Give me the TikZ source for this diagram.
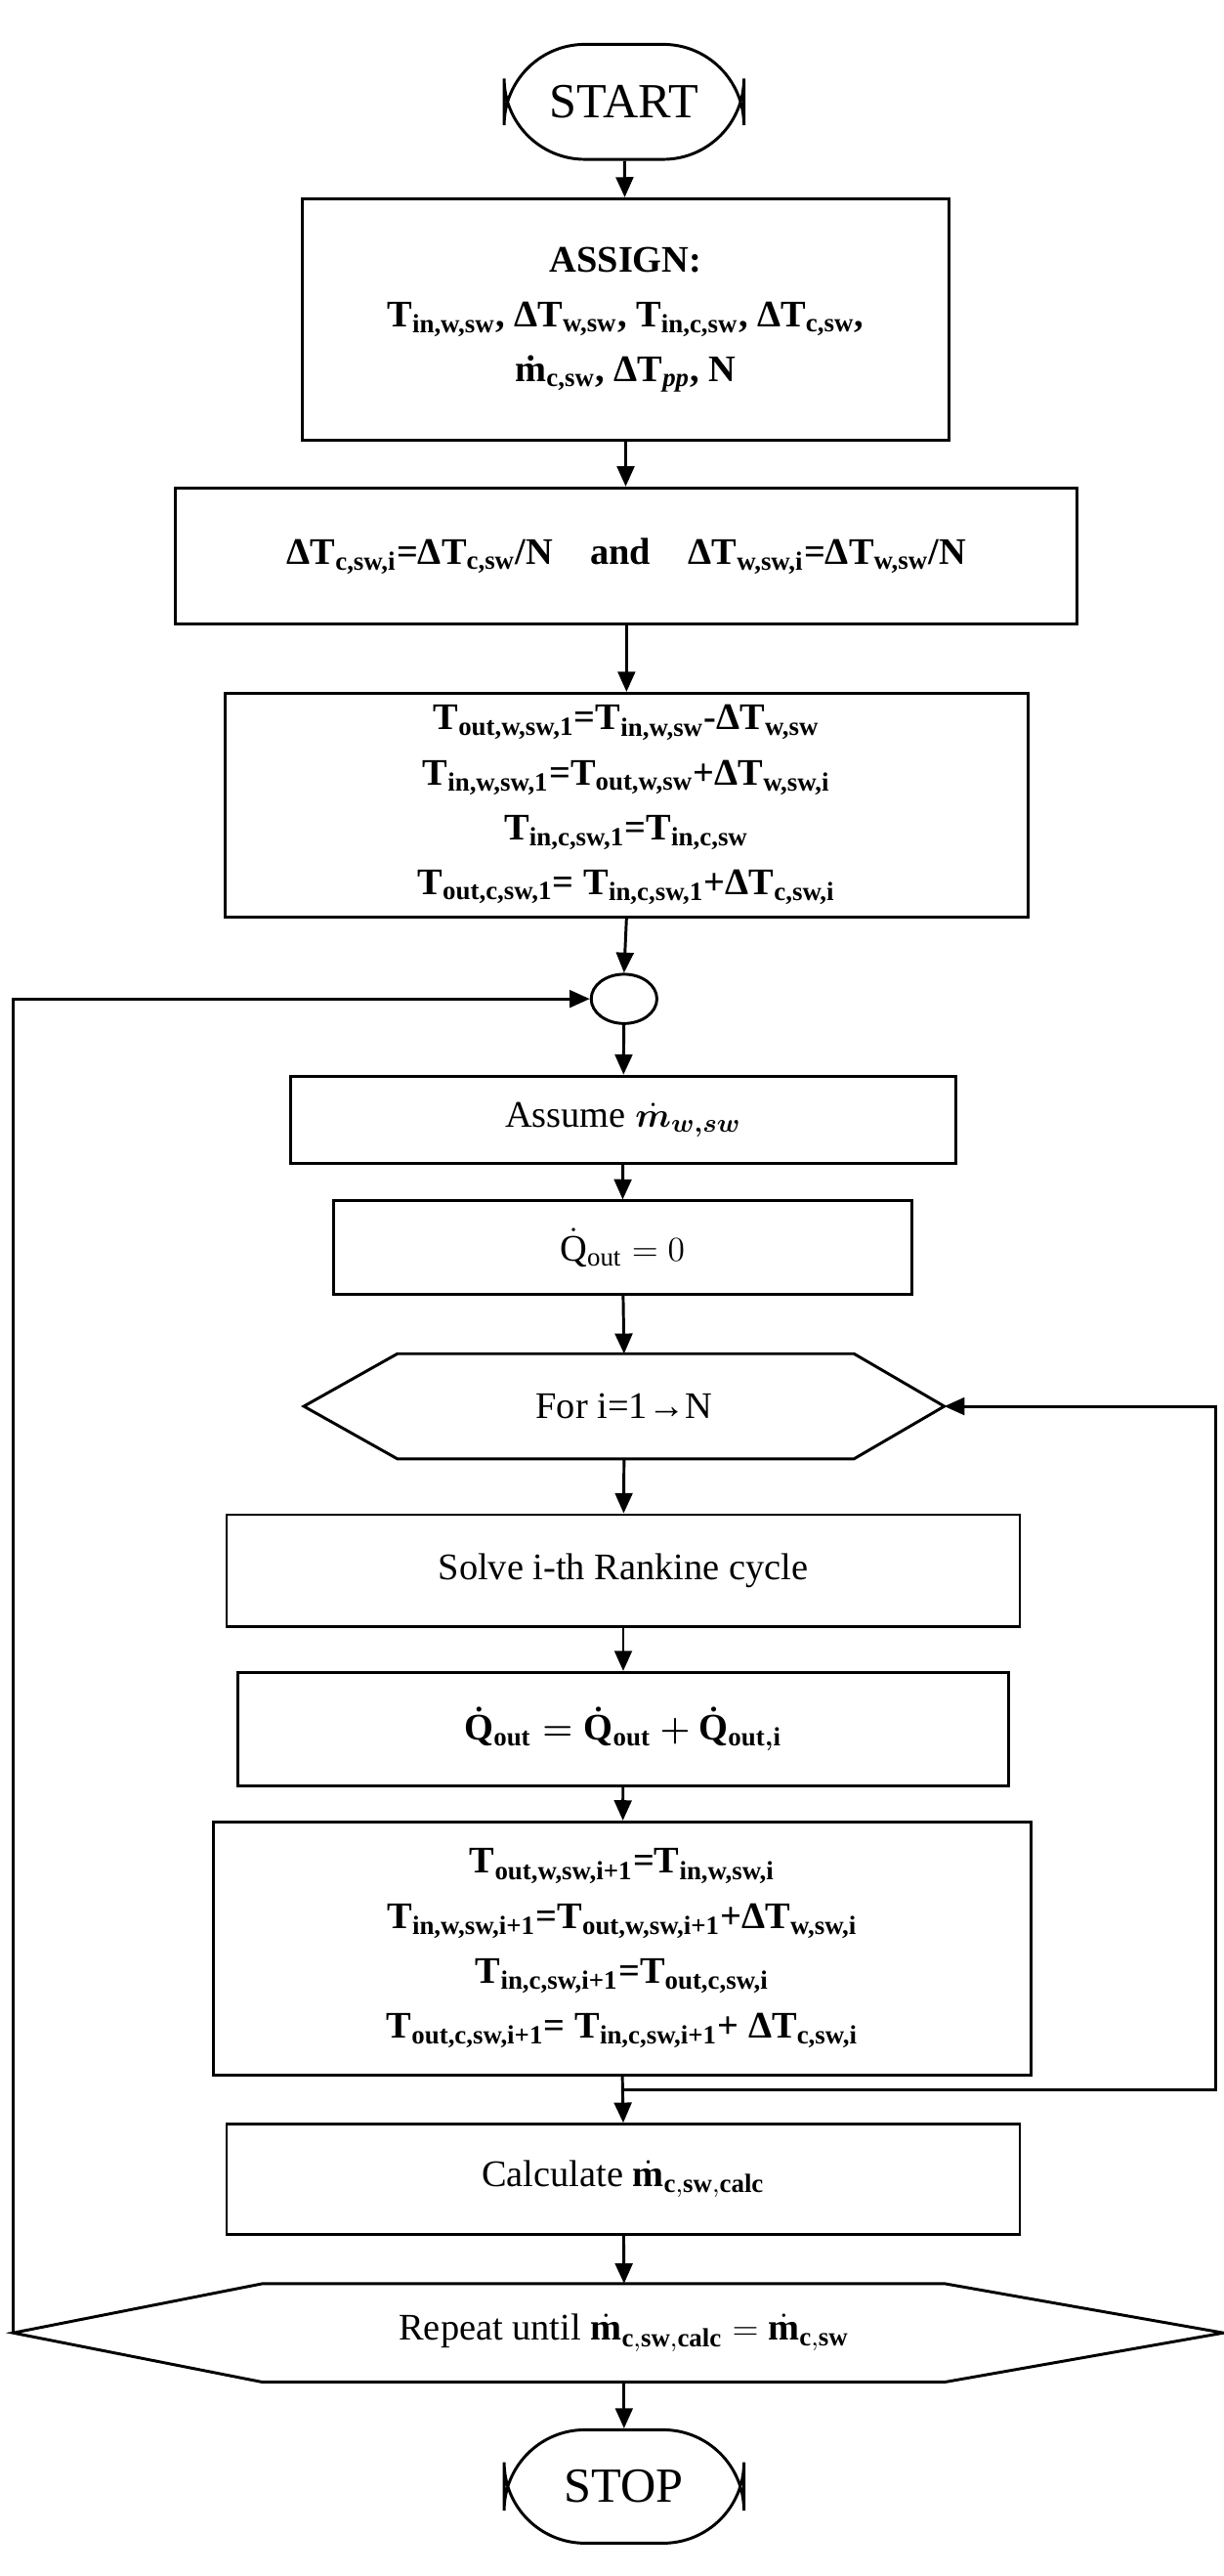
\documentclass[tikz,border=0pt]{standalone}
\usepackage{amsmath}
\usepackage{fontspec}
\setmainfont{Liberation Serif}
\usetikzlibrary{arrows.meta,shapes.geometric}
\newcommand\sbs[1]{\textsubscript{#1}}
\begin{document}
\begin{tikzpicture}[x=0.02cm,y=-0.02cm,
  bx/.style={draw,line width=1pt,align=center,font=\fontsize{13}{19}\selectfont},
  ar/.style={-{Triangle[length=7pt,width=6pt]},line width=1pt}]
\useasboundingbox (0,0) rectangle (745,1568);
\node[bx,rounded corners=28pt,minimum width=146*0.02cm,minimum height=70*0.02cm,font=\fontsize{17}{20}\selectfont] (start) at (380,62) {START};
\node[bx,minimum width=394*0.02cm,minimum height=147*0.02cm,font=\bfseries\fontsize{13}{19}\selectfont] (assign) at (381,194.5) {ASSIGN:\\T\sbs{in,w,sw}, ΔT\sbs{w,sw}, T\sbs{in,c,sw}, ΔT\sbs{c,sw},\\\.{m}\sbs{c,sw}, ΔT\sbs{\textit{pp}}, N};
\node[bx,minimum width=549*0.02cm,minimum height=83*0.02cm,font=\bfseries\fontsize{13}{19}\selectfont] (b2) at (381.5,338.5) {ΔT\sbs{c,sw,i}=ΔT\sbs{c,sw}/N\quad and\quad ΔT\sbs{w,sw,i}=ΔT\sbs{w,sw}/N};
\node[bx,minimum width=489*0.02cm,minimum height=136*0.02cm,font=\bfseries\fontsize{13}{19}\selectfont] (b3) at (381.5,490) {T\sbs{out,w,sw,1}=T\sbs{in,w,sw}-ΔT\sbs{w,sw}\\T\sbs{in,w,sw,1}=T\sbs{out,w,sw}+ΔT\sbs{w,sw,i}\\T\sbs{in,c,sw,1}=T\sbs{in,c,sw}\\T\sbs{out,c,sw,1}= T\sbs{in,c,sw,1}+ΔT\sbs{c,sw,i}};
\node[draw,line width=1pt,ellipse,minimum width=40*0.02cm,minimum height=30*0.02cm,inner sep=0pt] (c) at (380,608) {};
\node[bx,minimum width=405*0.02cm,minimum height=53*0.02cm] (assume) at (379.5,681.5) {Assume $\dot{\boldsymbol{m}}_{\boldsymbol{w,sw}}$};
\node[bx,minimum width=352*0.02cm,minimum height=57*0.02cm] (q0) at (379,759.5) {$\dot{\mathrm{Q}}_{\mathrm{out}}=0$};
\coordinate (fl) at (185,856); \coordinate (fr) at (575,856);
\draw[line width=1pt] (fl) -- (242,824) -- (520,824) -- (fr) -- (520,888) -- (242,888) -- cycle;
\node[font=\fontsize{13}{19}\selectfont] (for) at (380,856) {For i=1→N};
\coordinate (ft) at (380,824); \coordinate (fb) at (380,888);
\node[bx,minimum width=483*0.02cm,minimum height=68*0.02cm] (solve) at (379.5,956) {Solve i-th Rankine cycle};
\node[bx,minimum width=469*0.02cm,minimum height=69*0.02cm] (qo) at (379.5,1052.5) {$\boldsymbol{\dot{\mathrm{Q}}_{\mathrm{out}}=\dot{\mathrm{Q}}_{\mathrm{out}}+\dot{\mathrm{Q}}_{\mathrm{out,i}}}$};
\node[bx,minimum width=498*0.02cm,minimum height=154*0.02cm,font=\bfseries\fontsize{13}{19}\selectfont] (big) at (379,1186) {T\sbs{out,w,sw,i+1}=T\sbs{in,w,sw,i}\\T\sbs{in,w,sw,i+1}=T\sbs{out,w,sw,i+1}+ΔT\sbs{w,sw,i}\\T\sbs{in,c,sw,i+1}=T\sbs{out,c,sw,i}\\T\sbs{out,c,sw,i+1}= T\sbs{in,c,sw,i+1}+ ΔT\sbs{c,sw,i}};
\node[bx,minimum width=483*0.02cm,minimum height=67*0.02cm] (calc) at (379.5,1326.5) {Calculate $\dot{\mathbf{m}}_{\mathbf{c,sw,calc}}$};
\coordinate (rl) at (8,1420); \coordinate (rr) at (745,1420);
\draw[line width=1pt] (rl) -- (160,1390) -- (575,1390) -- (rr) -- (575,1450) -- (160,1450) -- cycle;
\node[font=\fontsize{13}{19}\selectfont] (rep) at (380,1420) {Repeat until $\dot{\mathbf{m}}_{\mathbf{c,sw,calc}}=\dot{\mathbf{m}}_{\mathbf{c,sw}}$};
\coordinate (rt) at (380,1390); \coordinate (rb) at (380,1450);
\node[bx,rounded corners=28pt,minimum width=146*0.02cm,minimum height=69*0.02cm,font=\fontsize{17}{20}\selectfont] (stop) at (380,1513.5) {STOP};
\draw[ar] (start) -- (assign);
\draw[ar] (assign.south) -- (assign.south|-b2.north);
\draw[ar] (b2.south) -- (b2.south|-b3.north);
\draw[ar] (b3.south) -- (c.north);
\draw[ar] (c) -- (assume);
\draw[ar] (assume) -- (q0);
\draw[ar] (q0) -- (ft);
\draw[ar] (fb) -- (solve);
\draw[ar] (solve) -- (qo);
\draw[ar] (qo) -- (big);
\coordinate (j) at (380,1272);
\draw[ar] (big.south) -- (calc.north);
\draw[ar] (j) -- (740,1272) -- (740,856) -- (fr);
\draw[ar] (calc) -- (rt);
\draw[ar] (rb) -- (stop);
\draw[ar] (rl) -- (8,608) -- (c.west);
\end{tikzpicture}
\end{document}
